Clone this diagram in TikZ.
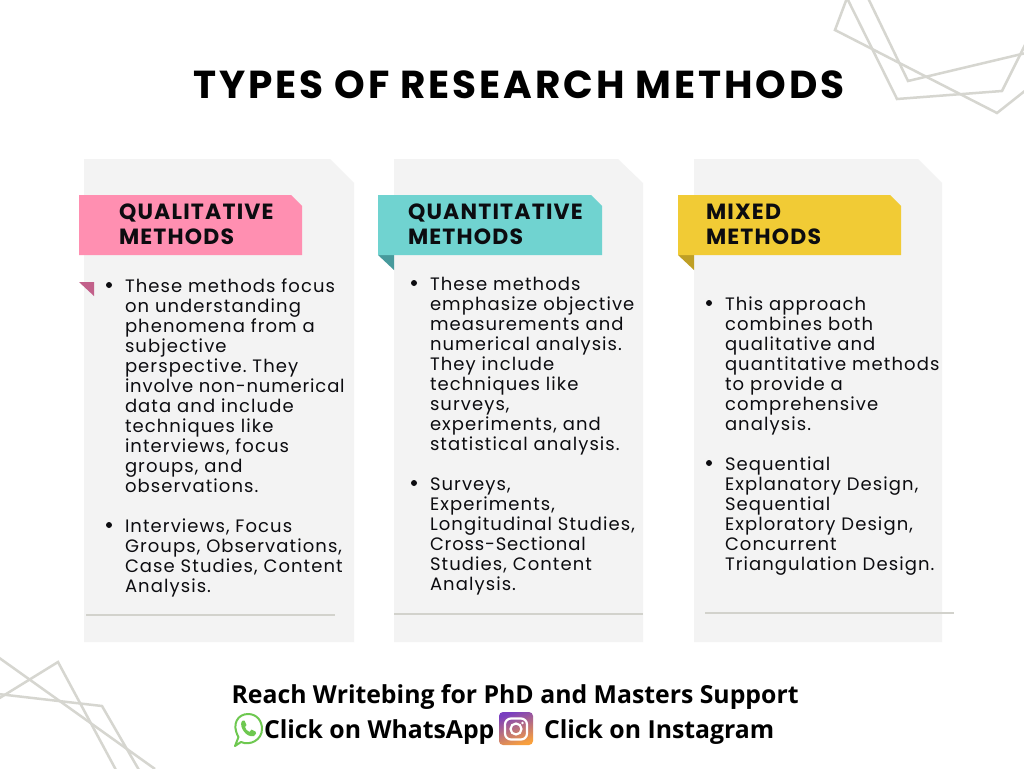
\documentclass[tikz,border=0pt]{standalone}
\usepackage{fontspec}
\setmainfont{Poppins}
\frenchspacing
\newfontfamily\footfont{Open Sans}
\newfontfamily\bodyfont[LetterSpace=6]{Poppins}
\newfontfamily\tightfont[LetterSpace=4.6]{Poppins}
\newfontfamily\headfont[LetterSpace=5.4]{Poppins}
\newfontfamily\titlefont[LetterSpace=7.4]{Poppins}
\definecolor{cardc}{HTML}{F3F3F3}
\definecolor{rulec}{HTML}{D2D2CC}
\definecolor{decoc}{HTML}{D6D6D0}
\definecolor{pinkc}{HTML}{FF8FB1}
\definecolor{pinkd}{HTML}{C2608A}
\definecolor{tealc}{HTML}{70D3D0}
\definecolor{teald}{HTML}{479A9C}
\definecolor{yelc}{HTML}{F1CB35}
\definecolor{yeld}{HTML}{BF9F25}
\definecolor{inkc}{HTML}{0C0C10}
\definecolor{wagreen}{HTML}{6EC850}
\definecolor{igtop}{HTML}{7A3FC0}
\definecolor{igmid}{HTML}{E0307A}
\definecolor{igbot}{HTML}{F9A03C}
\tikzset{
  x=1pt,y=-1pt,
  line/.style={anchor=base west,inner sep=0,outer sep=0,text=inkc,font=\fontsize{18}{20}\bodyfont\frenchspacing},
  head/.style={anchor=base west,inner sep=0,outer sep=0,text=inkc,font=\fontsize{22}{25}\headfont\bfseries},
  foot/.style={anchor=base west,inner sep=0,outer sep=0,text=black,font=\fontsize{24.8}{30}\footfont\bfseries},
  deco/.style={draw=decoc,line width=2.5pt,line join=miter},
  sep/.style={draw=rulec,line width=1.2pt},
  bul/.style={circle,fill=inkc,inner sep=0,minimum size=6pt}
}
\begin{document}
\begin{tikzpicture}
\useasboundingbox (0,0) rectangle (1024,768);
\fill[white] (0,0) rectangle (1024,768);
% decoration
\draw[deco] (847,-2)--(835,30)--(997,113)--(1026,90);
\draw[deco] (847,-2)--(897,99)--(1002,91)--(1026,43);
\draw[deco] (868,-2)--(908,81)--(1026,53);
\draw[deco] (-2,657)--(155,769);
\draw[deco] (-2,699)--(58,662)--(116,770);
\draw[deco] (-2,694)--(102,706)--(139,770);
% title
\node[anchor=base west,inner sep=0,text=black,font=\fontsize{39}{44}\titlefont\bfseries] (title) at (193,98) {TYPES OF RESEARCH METHODS};
% cards
\fill[cardc] (84,159)--(330,159)--(354,183)--(354,642)--(84,642)--cycle;
\fill[cardc] (394,159)--(618,159)--(643,183)--(643,642)--(394,642)--cycle;
\fill[cardc] (694,159)--(918,159)--(942,183)--(942,642)--(694,642)--cycle;
% banners
\fill[pinkd] (79,282)--(94,282)--(94,296)--cycle;
\fill[pinkc] (79,195)--(291,195)--(302,206)--(302,255)--(79,255)--cycle;
\fill[teald] (378,255)--(394,255)--(394,270)--cycle;
\fill[tealc] (378,195)--(591,195)--(602,206)--(602,255)--(378,255)--cycle;
\fill[yeld] (678,255)--(694,255)--(694,270)--cycle;
\fill[yelc] (678,195)--(890,195)--(901,206)--(901,255)--(678,255)--cycle;
% heads
\node[head] (h1a) at (119,219) {QUALITATIVE};
\node[head] (h1b) at (119,244) {METHODS};
\node[head] (h2a) at (408,219) {QUANTITATIVE};
\node[head] (h2b) at (408,244) {METHODS};
\node[head] (h3a) at (706,219) {MIXED};
\node[head] (h3b) at (706,244) {METHODS};
% column 1
\node[bul] (b11) at (109,285) {};
\node[bul] (b12) at (109,525) {};
\foreach \n/\y/\t in {a/292/These methods focus,b/312/on understanding,c/332/phenomena from a,d/352/subjective,e/372/perspective. They,f/392/{\tightfont involve non-numerical},g/412/data and include,h/432/techniques like,i/452/{interviews, focus},j/472/{groups, and},k/492/observations.,l/532/{Interviews, Focus},m/552/{Groups, Observations,},n/572/{Case Studies, Content},o/592/Analysis.}
  \node[line] (c1\n) at (125,\y) {\t};
% column 2
\node[bul] (b21) at (414,283) {};
\node[bul] (b22) at (414,483) {};
\foreach \n/\y/\t in {a/290/These methods,b/310/emphasize objective,c/330/measurements and,d/350/numerical analysis.,e/370/They include,f/390/techniques like,g/410/{surveys,},h/430/{experiments, and},i/450/statistical analysis.,j/490/{Surveys,},k/510/{Experiments,},l/530/{Longitudinal Studies,},m/550/{\tightfont Cross-Sectional},n/570/{Studies, Content},o/590/Analysis.}
  \node[line] (c2\n) at (430,\y) {\t};
% column 3
\node[bul] (b31) at (709,303) {};
\node[bul] (b32) at (709,463) {};
\foreach \n/\y/\t in {a/310/This approach,b/330/combines both,c/350/qualitative and,d/370/quantitative methods,e/390/to provide a,f/410/comprehensive,g/430/analysis.,h/470/Sequential,i/490/{Explanatory Design,},j/510/Sequential,k/530/{Exploratory Design,},l/550/Concurrent,m/570/Triangulation Design.}
  \node[line] (c3\n) at (725,\y) {\t};
% rules
\draw[sep] (86,615)--(335,615);
\draw[sep] (394,614)--(643,614);
\draw[sep] (705,613)--(954,613);
% footer
\node[foot] (f1) at (231.5,703) {Reach Writebing for PhD and Masters Support};
\node[foot] (f2) at (264,738) {Click on WhatsApp};
\node[foot] (f3) at (544,738) {Click on Instagram};
% whatsapp icon
\draw[draw=wagreen,line width=2pt,fill=white,line join=round]
  (235,746)--(238.5,737) .. controls (231,724) and (238,714) .. (248,714)
  .. controls (257,714) and (262,721) .. (262,729)
  .. controls (262,740) and (250,746) .. (241,742)--cycle;
\fill[wagreen] (241.5,722) .. controls (239.5,727) and (246,738) .. (254,736)
  .. controls (256.5,735) and (256.5,732) .. (255.5,731.5) -- (251.5,729.5) -- (249.5,732)
  .. controls (247,731) and (245.5,729) .. (245,727) -- (246.5,725) -- (244.5,720.5) .. controls (243.5,720) and (242,720.5) .. (241.5,722) -- cycle;
% instagram icon
\shade[rounded corners=4pt,top color=igtop,middle color=igmid,bottom color=igbot,shading angle=20] (499,712) rectangle (533,745);
\draw[white,line width=2.2pt,rounded corners=6pt] (505,718.5) rectangle (527,739.5);
\draw[white,line width=2.2pt] (516,729) circle (5.5);
\fill[white] (522.5,723) circle (1.4);
\end{tikzpicture}
\end{document}
